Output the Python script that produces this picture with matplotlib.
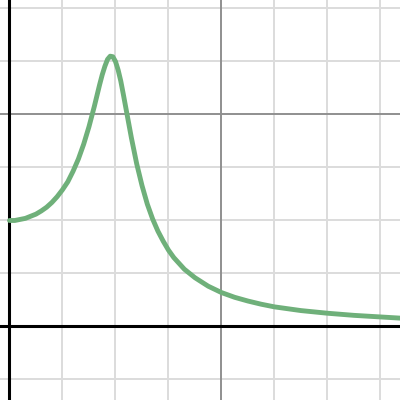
"""Resonance-style amplitude curve on a graph-paper grid."""
import matplotlib
matplotlib.use("Agg")
import matplotlib.pyplot as plt

# values
X = [0.0, 0.1, 0.2, 0.3, 0.4, 0.5, 0.6, 0.7, 0.8, 0.9, 1.0, 1.1, 1.2, 1.3,
     1.4, 1.5, 1.6, 1.7, 1.75, 1.8, 1.85, 1.9, 1.95, 2.0, 2.05, 2.1, 2.15,
     2.2, 2.3, 2.4, 2.5, 2.6, 2.7, 2.8, 2.9, 3.0, 3.1, 3.2, 3.3, 3.4, 3.5,
     3.75, 4.0, 4.25, 4.5, 4.75, 5.0, 5.5, 6.0, 6.5, 7.0, 7.5]
Y = [2.00, 2.00, 2.02, 2.04, 2.08, 2.12, 2.18, 2.25, 2.34, 2.45, 2.58, 2.73,
     2.93, 3.16, 3.44, 3.77, 4.15, 4.56, 4.75, 4.91, 5.04, 5.10, 5.09, 5.00,
     4.84, 4.63, 4.37, 4.10, 3.56, 3.07, 2.66, 2.31, 2.03, 1.80, 1.61, 1.44,
     1.30, 1.19, 1.08, 1.00, 0.92, 0.76, 0.64, 0.55, 0.48, 0.42, 0.37, 0.30,
     0.25, 0.21, 0.18, 0.15]

MINOR = [-1, 1, 2, 3, 5, 6, 7]
MAJOR = [4]


def main():
    fig = plt.figure(figsize=(4, 4), dpi=100)
    ax = fig.add_axes([0, 0, 1, 1])
    ax.set_xlim(-0.179, 7.368)
    ax.set_ylim(-1.387, 6.160)
    ax.axis("off")

    for v in MINOR:
        ax.axvline(v, color="#dcdcdc", lw=1.4, zorder=1)
        ax.axhline(v, color="#dcdcdc", lw=1.4, zorder=1)
    for v in MAJOR:
        ax.axvline(v, color="#8f8f8f", lw=1.4, zorder=2)
        ax.axhline(v, color="#8f8f8f", lw=1.4, zorder=2)
    ax.axvline(0, color="black", lw=2.2, zorder=3)
    ax.axhline(0, color="black", lw=2.2, zorder=3)

    ax.plot(X, Y, color="#6fb07a", lw=3.5, solid_capstyle="round",
            solid_joinstyle="round", zorder=4)

    fig.savefig("out.png", dpi=100)


if __name__ == "__main__":
    main()
